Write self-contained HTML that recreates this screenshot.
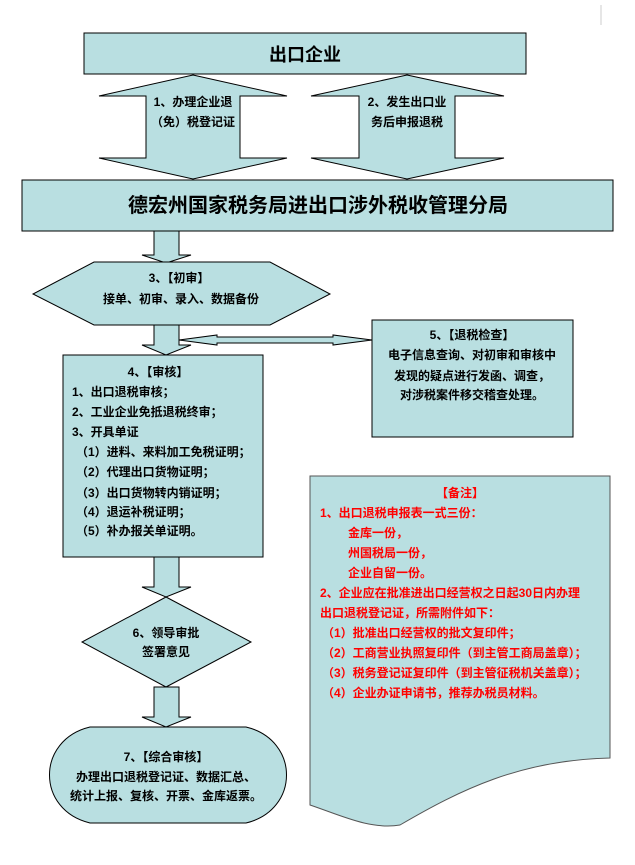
<!DOCTYPE html>
<html><head><meta charset="utf-8"><style>
html,body{margin:0;padding:0;background:#fff;}
svg text{font-family:"Liberation Sans","Noto Sans CJK SC",sans-serif;font-weight:bold;font-size:12px;fill:#000;}
.r{fill:#ff0000 !important;}
</style></head><body>
<svg width="635" height="860" viewBox="0 0 635 860" xmlns="http://www.w3.org/2000/svg">
<g fill="#b9dfe1" stroke="#000" stroke-width="1">
<line x1="601" y1="5" x2="601" y2="25" stroke="#ccc"/>
<rect x="84" y="33" width="442" height="41"/>
<polygon points="193,75 287,96 240,96 240,158 287,158 193,179 99,158 146,158 146,96 99,96"/>
<polygon points="407,75 504,96 455,96 455,158 504,158 407,179 311,158 359,158 359,96 311,96"/>
<rect x="22" y="180" width="591" height="51"/>
<polygon points="154,231 179,231 179,255 191,255 166,263 142,255 154,255"/>
<polygon points="94,262 270,262 330,294 270,325 94,325 33,294"/>
<polygon points="154,325 179,325 179,345 191,345 166,355 142,345 154,345"/>
<polygon points="179,340 217,335 217,337 333,337 333,335 372,340 333,345 333,343 217,343 217,345"/>
<rect x="372" y="320" width="201" height="117"/>
<rect x="63" y="355" width="200" height="202"/>
<polygon points="154,557 179,557 179,587 191,587 166,597 142,587 154,587"/>
<polygon points="166,597 251,642 166,687 82,642"/>
<polygon points="154,687 179,687 179,717 191,717 166,727 142,717 154,717"/>
<path d="M90,727 L246,727 C300,740 300,810 246,823 L90,823 C36,810 36,740 90,727 Z"/>
<path d="M310,476 L610,476 L610,758 C520,760 460,790 400,825 C370,830 340,815 310,805 Z" stroke="#555"/>
</g>
<text x="305" y="61" text-anchor="middle" style="font-size:18px">出口企业</text>
<text x="193" y="106" text-anchor="middle">1、办理企业退</text>
<text x="193" y="126" text-anchor="middle">（免）税登记证</text>
<text x="407" y="106" text-anchor="middle">2、发生出口业</text>
<text x="407" y="126" text-anchor="middle">务后申报退税</text>
<text x="318" y="212" text-anchor="middle" style="font-size:20px">德宏州国家税务局进出口涉外税收管理分局</text>
<text x="179" y="282" text-anchor="middle">3、【初审】</text>
<text x="181" y="303" text-anchor="middle">接单、初审、录入、数据备份</text>
<text x="472" y="339" text-anchor="middle">5、【退税检查】</text>
<text x="472" y="359" text-anchor="middle">电子信息查询、对初审和审核中</text>
<text x="472" y="380" text-anchor="middle">发现的疑点进行发函、调查，</text>
<text x="472" y="399" text-anchor="middle">对涉税案件移交稽查处理。</text>
<text x="158" y="376" text-anchor="middle">4、【审核】</text>
<text x="72" y="396">1、出口退税审核；</text>
<text x="72" y="416">2、工业企业免抵退税终审；</text>
<text x="72" y="436">3、开具单证</text>
<text x="76" y="456">（1）进料、来料加工免税证明；</text>
<text x="76" y="476">（2）代理出口货物证明；</text>
<text x="76" y="497">（3）出口货物转内销证明；</text>
<text x="76" y="516">（4）退运补税证明；</text>
<text x="76" y="535">（5）补办报关单证明。</text>
<text x="166" y="637" text-anchor="middle">6、领导审批</text>
<text x="166" y="656" text-anchor="middle">签署意见</text>
<text x="166" y="761" text-anchor="middle">7、【综合审核】</text>
<text x="166" y="781" text-anchor="middle">办理出口退税登记证、数据汇总、</text>
<text x="166" y="800" text-anchor="middle">统计上报、复核、开票、金库返票。</text>
<g>
<text class="r" x="460" y="497" text-anchor="middle">【备注】</text>
<text class="r" x="320" y="517">1、出口退税申报表一式三份：</text>
<text class="r" x="348" y="537">金库一份，</text>
<text class="r" x="348" y="557">州国税局一份，</text>
<text class="r" x="348" y="577">企业自留一份。</text>
<text class="r" x="320" y="597">2、企业应在批准进出口经营权之日起30日内办理</text>
<text class="r" x="320" y="617">出口退税登记证，所需附件如下：</text>
<text class="r" x="322" y="637">（1）批准出口经营权的批文复印件；</text>
<text class="r" x="322" y="657">（2）工商营业执照复印件（到主管工商局盖章）；</text>
<text class="r" x="322" y="677">（3）税务登记证复印件（到主管征税机关盖章）；</text>
<text class="r" x="322" y="697">（4）企业办证申请书，推荐办税员材料。</text>
</g>
</svg>
</body></html>
